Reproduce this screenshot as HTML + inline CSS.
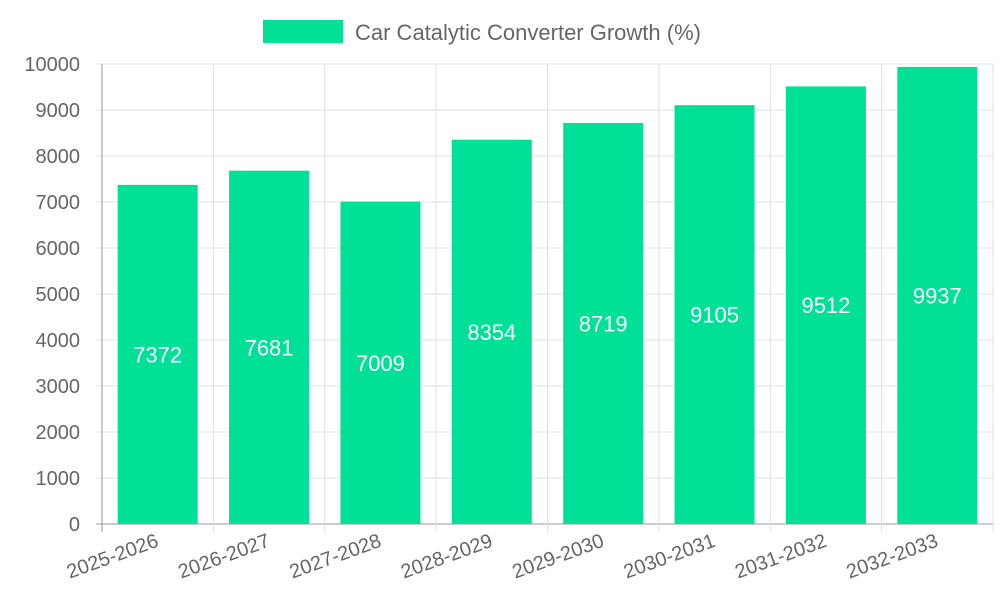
<!DOCTYPE html>
<html><head><meta charset="utf-8"><style>
body{margin:0;background:#fff;}
svg text{font-family:"Liberation Sans",sans-serif;}
</style></head><body>
<svg id="chart" width="1000" height="600">
<rect x="263" y="20" width="80" height="23" fill="#00e096"></rect>
<text x="355" y="40" font-size="22" fill="#666">Car Catalytic Converter Growth (%)</text>
<g id="grid"></g><g id="bars"></g><g id="labels"></g>
</svg>
<script>
const categories=["2025-2026","2026-2027","2027-2028","2028-2029","2029-2030","2030-2031","2031-2032","2032-2033"];
const values=[7372,7681,7009,8354,8719,9105,9512,9937];
const yTicks=[0,1000,2000,3000,4000,5000,6000,7000,8000,9000,10000];
const NS="http://www.w3.org/2000/svg";
const L=102,R=993,T=64,B=524,yMax=10000;
const bw=(R-L)/categories.length;
const y=v=>B-(v/yMax)*(B-T);
const x=i=>L+bw*i;
function mk(t,a,p){const e=document.createElementNS(NS,t);for(const k in a)e.setAttribute(k,a[k]);p.appendChild(e);return e;}
const g=document.getElementById('grid'),bg=document.getElementById('bars'),lg=document.getElementById('labels');
yTicks.forEach(v=>{
 const ln=mk('line',{x1:L-6,x2:R,y1:y(v),y2:y(v),stroke:v===0?'#999':'#e0e0e0','stroke-width':1},g);
 
 
 const t=mk('text',{x:L-22,y:y(v)+7,'text-anchor':'end','font-size':20,fill:'#666'},g);
 t.textContent=v;
 
 
});
for(let i=0;i<=categories.length;i++){
 const ln=mk('line',{x1:x(i),x2:x(i),y1:T,y2:B+8,stroke:i===0?'#999':'#e0e0e0','stroke-width':1},g);
 
 
}
categories.forEach((c,i)=>{
 const cx=x(i)+bw/2,w=80;
 const r=mk('rect',{x:cx-w/2,y:y(values[i]),width:w,height:B-y(values[i]),fill:'#00e096'},bg);
 
 
 const t=mk('text',{x:cx,y:(y(values[i])+B)/2+8,'text-anchor':'middle','font-size':22,fill:'#fff'},lg);
 t.textContent=values[i];
 
 
 const xl=mk('text',{x:cx+2,y:B+22,'text-anchor':'end','font-size':20,fill:'#666',transform:`rotate(-20 ${cx+2} ${B+22})`},lg);
 xl.textContent=c;
 
 
});
</script>
</body></html>
